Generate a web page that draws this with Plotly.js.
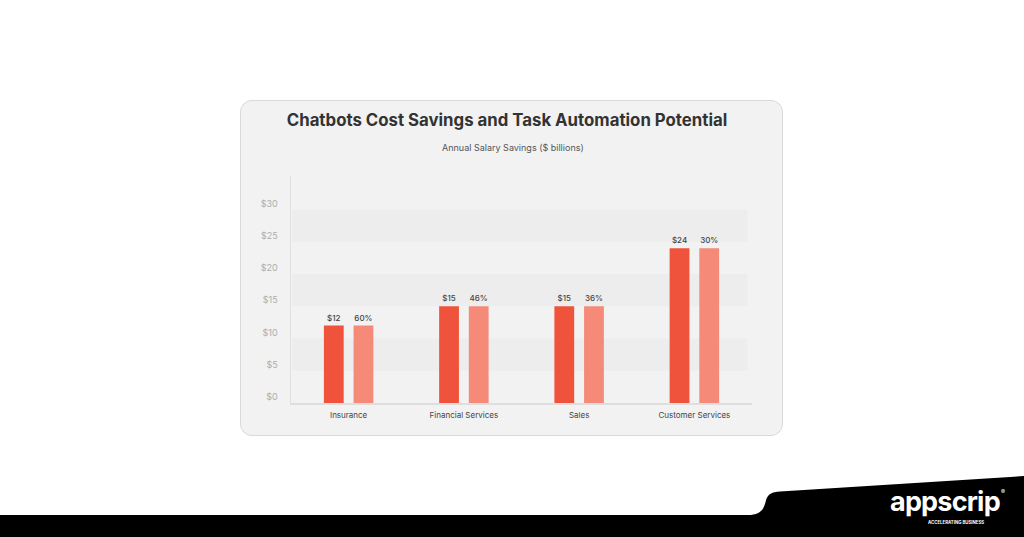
<!DOCTYPE html>
<html>
<head>
<meta charset="utf-8">
<script src="https://cdn.plot.ly/plotly-3.0.1.min.js"></script>
<style>
  html, body { margin:0; padding:0; background:#ffffff; width:1024px; height:537px; overflow:hidden; }
  #card { position:absolute; left:240px; top:100px; width:541px; height:334px; background:#f2f2f2; border:1px solid #d9d9d9; border-radius:12px; }
  #chart { position:absolute; left:0; top:0; width:1024px; height:537px; }
  #band { position:absolute; left:0; top:0; width:1024px; height:537px; }
  #logo { position:absolute; left:890px; top:493px; height:18px; color:#fff; font-family:Inter, "Open Sans", sans-serif; font-weight:700; font-size:27px; letter-spacing:-0.8px; line-height:18px; white-space:nowrap; }
  #tag { position:absolute; left:928px; top:520px; color:#fff; font-family:Inter, sans-serif; font-weight:700; font-size:6px; line-height:5px; letter-spacing:0px; transform-origin:0 0; transform:scale(0.72, 0.8); white-space:nowrap; }
  #reg { position:absolute; left:1001px; top:489px; color:#fff; font-family:Inter, sans-serif; font-size:6px; line-height:6px; }
</style>
</head>
<body>
<div id="card"></div>
<svg id="band" width="1024" height="537">
  <path d="M0,515 L748,515 C760,515 764,510 766,500 C768,494 772,492 780,491.5 L1024,476 L1024,537 L0,537 Z" fill="#000"/>
</svg>
<div id="logo">appscrip</div>
<div id="tag">ACCELERATING BUSINESS</div>
<div id="reg">®</div>
<div id="chart"></div>
<script>
const categories = ["Insurance", "Financial Services", "Sales", "Customer Services"];
const savings = [12, 15, 15, 24];
const savingsLabels = ["$12", "$15", "$15", "$24"];
const automationLabels = ["60%", "46%", "36%", "30%"];
const tickVals = [0, 5, 10, 15, 20, 25, 30];
const tickText = ["$0", "$5", "$10", "$15", "$20", "$25", "$30"];

const textFont = {family: "Inter, Roboto, sans-serif", size: 8, color: "#444", weight: 500};

const traces = [
  {type: "bar", x: categories, y: savings, text: savingsLabels, textposition: "outside",
   textfont: textFont, cliponaxis: false, marker: {color: "#F0533B"}, hoverinfo: "none"},
  {type: "bar", x: categories, y: savings, text: automationLabels, textposition: "outside",
   textfont: textFont, cliponaxis: false, marker: {color: "#F58A78"}, hoverinfo: "none"}
];

// alternating shaded bands between tick values
const shapes = [];
for (let i = 1; i + 1 < tickVals.length; i += 2) {
  shapes.push({type: "rect", xref: "paper", yref: "y", x0: 0.003, x1: 0.99,
    y0: tickVals[i], y1: tickVals[i + 1], fillcolor: "#ededed", line: {width: 0}, layer: "below"});
}

const layout = {
  width: 1024, height: 537,
  margin: {l: 291, r: 272, t: 176, b: 134, pad: 0},
  paper_bgcolor: "rgba(0,0,0,0)", plot_bgcolor: "rgba(0,0,0,0)",
  showlegend: false,
  barmode: "group", bargap: 0.485, bargroupgap: 0.333,
  font: {family: "Inter, Roboto, sans-serif"},
  title: {text: "Chatbots Cost Savings and Task Automation Potential",
    font: {family: "Inter, Roboto, sans-serif", size: 16.8, color: "#333", weight: 700},
    x: 507 / 1024, xanchor: "center", xref: "container", yref: "container", y: 1 - 120/537, yanchor: "middle"},
  annotations: [{text: "Annual Salary Savings ($ billions)", xref: "paper", yref: "paper",
    x: (513 - 291) / 461, y: 1 + (176 - 147) / 227, xanchor: "center", yanchor: "middle", showarrow: false,
    font: {family: "Inter, Roboto, sans-serif", size: 9, color: "#555"}}],
  xaxis: {showline: true, linecolor: "#dedede", linewidth: 1.5, showgrid: false, zeroline: false,
    ticks: "", tickfont: {family: "Inter, Roboto, sans-serif", size: 8, color: "#444"},
    ticklabelstandoff: 4, fixedrange: true},
  yaxis: {range: [0, 35.2], showline: true, linecolor: "#e0e0e0", linewidth: 1.5, showgrid: false,
    zeroline: false, ticks: "", tickvals: tickVals, ticktext: tickText,
    tickfont: {family: "Inter, Roboto, sans-serif", size: 9, color: "#adadad"},
    ticklabelstandoff: 10, ticklabelshift: -6, fixedrange: true},
  shapes: shapes
};

Plotly.newPlot("chart", traces, layout, {staticPlot: true, displayModeBar: false});
</script>
</body>
</html>
